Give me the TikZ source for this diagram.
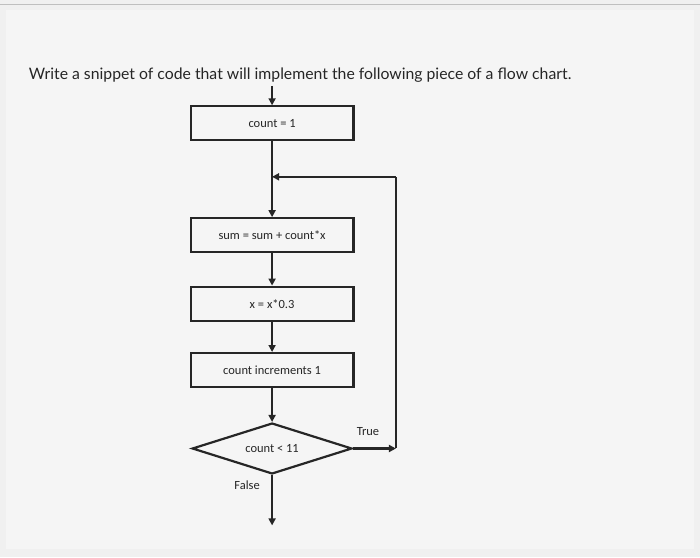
\documentclass[tikz,border=0pt]{standalone}
\usepackage{fontspec}
\setmainfont{Carlito}
\newfontfamily\titlefont{Lato}
\usetikzlibrary{arrows.meta,shapes.geometric}
\begin{document}
\begin{tikzpicture}[x=1pt,y=-1pt,
  blk/.style={draw=black!85,line width=2.2pt,minimum width=163pt,minimum height=34pt,inner sep=0pt,font=\fontsize{12.5}{14}\selectfont,text=black!85},
  ln/.style={draw=black!85,line width=2.2pt},
  arr/.style={ln,-{Triangle[length=7pt,width=7pt]}},
  lbl/.style={font=\fontsize{12.5}{14}\selectfont,text=black!85}]
\fill[black!6] (0,0) rectangle (700,558);
\fill[white!96!black] (6,10) rectangle (694,550);
\draw[black!25,line width=0.8pt] (0,4) -- (700,4);
\node[anchor=west,font=\titlefont\fontsize{15.8}{18}\selectfont,text=black!85] (title) at (25,75) {Write a snippet of code that will implement the following piece of a flow chart.};
\coordinate (start) at (272,86);
\node[blk] (b1) at (272,123.5) {count = 1};
\node[blk] (b2) at (272,235.5) {sum = sum + count*x};
\node[blk] (b3) at (272,304) {x = x*0.3};
\node[blk] (b4) at (272,370.5) {count increments 1};
\node[diamond,draw=black!85,line width=2.2pt,minimum width=160pt,minimum height=51pt,inner sep=0pt,aspect=3.1,font=\fontsize{12.5}{14}\selectfont,text=black!85] (d) at (272,449) {count < 11};
\coordinate (j) at (272,177);
\coordinate (rt) at (396,177);
\coordinate (rb) at (396,449);
\coordinate (end) at (272,526);
\draw[arr] (start) -- (b1.north);
\draw[ln] (b1.south) -- (j);
\draw[arr] (j) -- (b2.north);
\draw[arr] (b2.south) -- (b3.north);
\draw[arr] (b3.south) -- (b4.north);
\draw[arr] (b4.south) -- (d.north);
\draw[arr] (d.east) -- (rb);
\draw[ln] (rb) -- (rt);
\draw[arr] (rt) -- (j);
\draw[arr] (d.south) -- (end);
\node[lbl] (t) at (368,432) {True};
\node[lbl] (f) at (247,486) {False};
\end{tikzpicture}
\end{document}
